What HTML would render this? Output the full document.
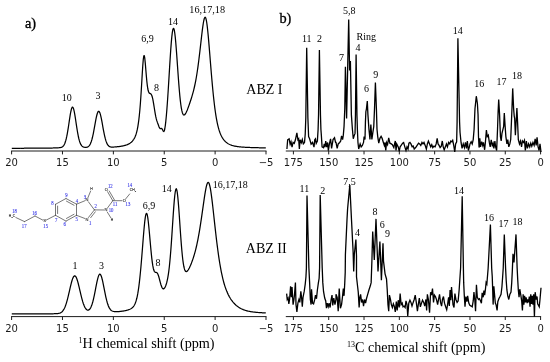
<!DOCTYPE html>
<html lang="en"><head><meta charset="utf-8"><title>ABZ NMR spectra</title>
<style>html,body{margin:0;padding:0;background:#fff}svg{display:block}</style></head>
<body>
<svg width="550" height="362" viewBox="0 0 550 362">
<rect width="550" height="362" fill="#fff"/>
<path d="M11.10 151.00H266.50" stroke="#1c1c1c" stroke-width="1" fill="none"/>
<path d="M11.60 151.00v3.4M62.48 151.00v3.4M113.36 151.00v3.4M164.24 151.00v3.4M215.12 151.00v3.4M266.00 151.00v3.4" stroke="#1c1c1c" stroke-width="1" fill="none"/>
<text x="11.60" y="165.60" text-anchor="middle" font-family='"DejaVu Sans", "Liberation Sans", sans-serif' font-size="10" fill="#1a1a1a">20</text>
<text x="62.48" y="165.60" text-anchor="middle" font-family='"DejaVu Sans", "Liberation Sans", sans-serif' font-size="10" fill="#1a1a1a">15</text>
<text x="113.36" y="165.60" text-anchor="middle" font-family='"DejaVu Sans", "Liberation Sans", sans-serif' font-size="10" fill="#1a1a1a">10</text>
<text x="164.24" y="165.60" text-anchor="middle" font-family='"DejaVu Sans", "Liberation Sans", sans-serif' font-size="10" fill="#1a1a1a">5</text>
<text x="215.12" y="165.60" text-anchor="middle" font-family='"DejaVu Sans", "Liberation Sans", sans-serif' font-size="10" fill="#1a1a1a">0</text>
<text x="266.00" y="165.60" text-anchor="middle" font-family='"DejaVu Sans", "Liberation Sans", sans-serif' font-size="10" fill="#1a1a1a">−5</text>
<path d="M11.10 316.60H266.50" stroke="#1c1c1c" stroke-width="1" fill="none"/>
<path d="M11.60 316.60v3.4M62.48 316.60v3.4M113.36 316.60v3.4M164.24 316.60v3.4M215.12 316.60v3.4M266.00 316.60v3.4" stroke="#1c1c1c" stroke-width="1" fill="none"/>
<text x="11.60" y="331.50" text-anchor="middle" font-family='"DejaVu Sans", "Liberation Sans", sans-serif' font-size="10" fill="#1a1a1a">20</text>
<text x="62.48" y="331.50" text-anchor="middle" font-family='"DejaVu Sans", "Liberation Sans", sans-serif' font-size="10" fill="#1a1a1a">15</text>
<text x="113.36" y="331.50" text-anchor="middle" font-family='"DejaVu Sans", "Liberation Sans", sans-serif' font-size="10" fill="#1a1a1a">10</text>
<text x="164.24" y="331.50" text-anchor="middle" font-family='"DejaVu Sans", "Liberation Sans", sans-serif' font-size="10" fill="#1a1a1a">5</text>
<text x="215.12" y="331.50" text-anchor="middle" font-family='"DejaVu Sans", "Liberation Sans", sans-serif' font-size="10" fill="#1a1a1a">0</text>
<text x="266.00" y="331.50" text-anchor="middle" font-family='"DejaVu Sans", "Liberation Sans", sans-serif' font-size="10" fill="#1a1a1a">−5</text>
<path d="M285.80 151.00H541.10" stroke="#1c1c1c" stroke-width="1" fill="none"/>
<path d="M293.40 151.00v3.4M328.71 151.00v3.4M364.02 151.00v3.4M399.34 151.00v3.4M434.65 151.00v3.4M469.96 151.00v3.4M505.27 151.00v3.4M540.59 151.00v3.4" stroke="#1c1c1c" stroke-width="1" fill="none"/>
<text x="293.40" y="165.60" text-anchor="middle" font-family='"DejaVu Sans", "Liberation Sans", sans-serif' font-size="10" fill="#1a1a1a">175</text>
<text x="328.71" y="165.60" text-anchor="middle" font-family='"DejaVu Sans", "Liberation Sans", sans-serif' font-size="10" fill="#1a1a1a">150</text>
<text x="364.02" y="165.60" text-anchor="middle" font-family='"DejaVu Sans", "Liberation Sans", sans-serif' font-size="10" fill="#1a1a1a">125</text>
<text x="399.34" y="165.60" text-anchor="middle" font-family='"DejaVu Sans", "Liberation Sans", sans-serif' font-size="10" fill="#1a1a1a">100</text>
<text x="434.65" y="165.60" text-anchor="middle" font-family='"DejaVu Sans", "Liberation Sans", sans-serif' font-size="10" fill="#1a1a1a">75</text>
<text x="469.96" y="165.60" text-anchor="middle" font-family='"DejaVu Sans", "Liberation Sans", sans-serif' font-size="10" fill="#1a1a1a">50</text>
<text x="505.27" y="165.60" text-anchor="middle" font-family='"DejaVu Sans", "Liberation Sans", sans-serif' font-size="10" fill="#1a1a1a">25</text>
<text x="540.59" y="165.60" text-anchor="middle" font-family='"DejaVu Sans", "Liberation Sans", sans-serif' font-size="10" fill="#1a1a1a">0</text>
<path d="M285.80 316.60H541.10" stroke="#1c1c1c" stroke-width="1" fill="none"/>
<path d="M293.40 316.60v3.4M328.71 316.60v3.4M364.02 316.60v3.4M399.34 316.60v3.4M434.65 316.60v3.4M469.96 316.60v3.4M505.27 316.60v3.4M540.59 316.60v3.4" stroke="#1c1c1c" stroke-width="1" fill="none"/>
<text x="293.40" y="331.50" text-anchor="middle" font-family='"DejaVu Sans", "Liberation Sans", sans-serif' font-size="10" fill="#1a1a1a">175</text>
<text x="328.71" y="331.50" text-anchor="middle" font-family='"DejaVu Sans", "Liberation Sans", sans-serif' font-size="10" fill="#1a1a1a">150</text>
<text x="364.02" y="331.50" text-anchor="middle" font-family='"DejaVu Sans", "Liberation Sans", sans-serif' font-size="10" fill="#1a1a1a">125</text>
<text x="399.34" y="331.50" text-anchor="middle" font-family='"DejaVu Sans", "Liberation Sans", sans-serif' font-size="10" fill="#1a1a1a">100</text>
<text x="434.65" y="331.50" text-anchor="middle" font-family='"DejaVu Sans", "Liberation Sans", sans-serif' font-size="10" fill="#1a1a1a">75</text>
<text x="469.96" y="331.50" text-anchor="middle" font-family='"DejaVu Sans", "Liberation Sans", sans-serif' font-size="10" fill="#1a1a1a">50</text>
<text x="505.27" y="331.50" text-anchor="middle" font-family='"DejaVu Sans", "Liberation Sans", sans-serif' font-size="10" fill="#1a1a1a">25</text>
<text x="540.59" y="331.50" text-anchor="middle" font-family='"DejaVu Sans", "Liberation Sans", sans-serif' font-size="10" fill="#1a1a1a">0</text>
<path d="M11.80 148.28L12.30 148.27L12.80 148.27L13.30 148.27L13.80 148.27L14.30 148.27L14.80 148.27L15.30 148.27L15.80 148.27L16.30 148.27L16.80 148.26L17.30 148.26L17.80 148.26L18.30 148.26L18.80 148.26L19.30 148.26L19.80 148.26L20.30 148.26L20.80 148.25L21.30 148.25L21.80 148.25L22.30 148.25L22.80 148.25L23.30 148.25L23.80 148.25L24.30 148.24L24.80 148.24L25.30 148.24L25.80 148.24L26.30 148.24L26.80 148.24L27.30 148.23L27.80 148.23L28.30 148.23L28.80 148.23L29.30 148.23L29.80 148.22L30.30 148.22L30.80 148.22L31.30 148.22L31.80 148.22L32.30 148.21L32.80 148.21L33.30 148.21L33.80 148.21L34.30 148.20L34.80 148.20L35.30 148.20L35.80 148.20L36.30 148.19L36.80 148.19L37.30 148.19L37.80 148.18L38.30 148.18L38.80 148.18L39.30 148.17L39.80 148.17L40.30 148.17L40.80 148.16L41.30 148.16L41.80 148.15L42.30 148.15L42.80 148.15L43.30 148.14L43.80 148.14L44.30 148.13L44.80 148.13L45.30 148.12L45.80 148.12L46.30 148.11L46.80 148.10L47.30 148.10L47.80 148.09L48.30 148.08L48.80 148.08L49.30 148.07L49.80 148.06L50.30 148.05L50.80 148.04L51.30 148.03L51.80 148.02L52.30 148.01L52.80 148.00L53.30 147.99L53.80 147.98L54.30 147.96L54.80 147.95L55.30 147.93L55.80 147.91L56.30 147.89L56.80 147.87L57.30 147.85L57.80 147.82L58.30 147.79L58.80 147.75L59.30 147.70L59.80 147.64L60.30 147.56L60.80 147.45L61.30 147.30L61.80 147.10L62.30 146.83L62.80 146.46L63.30 145.96L63.80 145.32L64.30 144.48L64.80 143.41L65.30 142.07L65.80 140.43L66.30 138.48L66.80 136.19L67.30 133.58L67.80 130.67L68.30 127.53L68.80 124.22L69.30 120.85L69.80 117.56L70.30 114.47L70.80 111.75L71.30 109.55L71.80 108.00L72.30 107.20L72.80 107.22L73.30 108.05L73.80 109.63L74.30 111.86L74.80 114.59L75.30 117.69L75.80 120.98L76.30 124.34L76.80 127.64L77.30 130.77L77.80 133.65L78.30 136.24L78.80 138.50L79.30 140.43L79.80 142.04L80.30 143.36L80.80 144.41L81.30 145.23L81.80 145.86L82.30 146.33L82.80 146.68L83.30 146.94L83.80 147.12L84.30 147.24L84.80 147.31L85.30 147.35L85.80 147.34L86.30 147.30L86.80 147.21L87.30 147.06L87.80 146.85L88.30 146.54L88.80 146.13L89.30 145.58L89.80 144.87L90.30 143.97L90.80 142.86L91.30 141.51L91.80 139.90L92.30 138.03L92.80 135.89L93.30 133.52L93.80 130.95L94.30 128.23L94.80 125.42L95.30 122.63L95.80 119.93L96.30 117.45L96.80 115.26L97.30 113.48L97.80 112.19L98.30 111.43L98.80 111.26L99.30 111.67L99.80 112.65L100.30 114.15L100.80 116.10L101.30 118.41L101.80 120.99L102.30 123.72L102.80 126.52L103.30 129.28L103.80 131.93L104.30 134.41L104.80 136.66L105.30 138.67L105.80 140.41L106.30 141.89L106.80 143.13L107.30 144.13L107.80 144.93L108.30 145.55L108.80 146.03L109.30 146.38L109.80 146.64L110.30 146.82L110.80 146.94L111.30 147.01L111.80 147.05L112.30 147.07L112.80 147.07L113.30 147.06L113.80 147.03L114.30 147.00L114.80 146.97L115.30 146.93L115.80 146.89L116.30 146.84L116.80 146.80L117.30 146.74L117.80 146.69L118.30 146.63L118.80 146.57L119.30 146.51L119.80 146.44L120.30 146.36L120.80 146.29L121.30 146.20L121.80 146.12L122.30 146.02L122.80 145.92L123.30 145.81L123.80 145.70L124.30 145.57L124.80 145.44L125.30 145.30L125.80 145.14L126.30 144.98L126.80 144.80L127.30 144.60L127.80 144.39L128.30 144.15L128.80 143.90L129.30 143.62L129.80 143.31L130.30 142.98L130.80 142.60L131.30 142.19L131.80 141.73L132.30 141.21L132.80 140.63L133.30 139.98L133.80 139.24L134.30 138.39L134.80 137.41L135.30 136.28L135.80 134.95L136.30 133.40L136.80 131.56L137.30 129.38L137.80 126.78L138.30 123.68L138.80 119.99L139.30 115.61L139.80 110.45L140.30 104.44L140.80 97.53L141.30 89.79L141.80 81.47L142.30 73.04L142.80 65.28L143.30 59.23L143.80 55.84L144.30 55.65L144.80 58.45L145.30 63.42L145.80 69.45L146.30 75.53L146.80 80.98L147.30 85.43L147.80 88.75L148.30 91.02L148.80 92.40L149.30 93.12L149.80 93.43L150.30 93.60L150.80 93.87L151.30 94.44L151.80 95.47L152.30 97.04L152.80 99.16L153.30 101.79L153.80 104.78L154.30 107.98L154.80 111.16L155.30 114.12L155.80 116.73L156.30 118.90L156.80 120.67L157.30 122.14L157.80 123.48L158.30 124.82L158.80 126.17L159.30 127.39L159.80 128.28L160.30 128.65L160.80 128.59L161.30 128.40L161.80 128.53L162.30 129.21L162.80 130.29L163.30 131.27L163.80 131.57L164.30 130.78L164.80 128.75L165.30 125.57L165.80 121.36L166.30 116.26L166.80 110.36L167.30 103.74L167.80 96.50L168.30 88.75L168.80 80.65L169.30 72.38L169.80 64.16L170.30 56.25L170.80 48.89L171.30 42.35L171.80 36.84L172.30 32.58L172.80 29.72L173.30 28.36L173.80 28.53L174.30 30.20L174.80 33.28L175.30 37.62L175.80 43.02L176.30 49.23L176.80 56.01L177.30 63.11L177.80 70.27L178.30 77.27L178.80 83.92L179.30 90.05L179.80 95.57L180.30 100.38L180.80 104.47L181.30 107.81L181.80 110.45L182.30 112.42L182.80 113.79L183.30 114.63L183.80 115.00L184.30 114.98L184.80 114.63L185.30 114.02L185.80 113.20L186.30 112.22L186.80 111.10L187.30 109.90L187.80 108.61L188.30 107.27L188.80 105.89L189.30 104.47L189.80 103.02L190.30 101.53L190.80 100.01L191.30 98.45L191.80 96.83L192.30 95.15L192.80 93.40L193.30 91.55L193.80 89.59L194.30 87.50L194.80 85.26L195.30 82.86L195.80 80.27L196.30 77.49L196.80 74.49L197.30 71.26L197.80 67.82L198.30 64.15L198.80 60.27L199.30 56.20L199.80 51.97L200.30 47.63L200.80 43.21L201.30 38.81L201.80 34.50L202.30 30.39L202.80 26.59L203.30 23.25L203.80 20.51L204.30 18.51L204.80 17.39L205.30 17.25L205.80 18.14L206.30 20.08L206.80 23.02L207.30 26.85L207.80 31.45L208.30 36.67L208.80 42.35L209.30 48.34L209.80 54.50L210.30 60.72L210.80 66.90L211.30 72.95L211.80 78.80L212.30 84.42L212.80 89.74L213.30 94.76L213.80 99.44L214.30 103.79L214.80 107.80L215.30 111.47L215.80 114.82L216.30 117.86L216.80 120.61L217.30 123.10L217.80 125.33L218.30 127.34L218.80 129.14L219.30 130.76L219.80 132.21L220.30 133.52L220.80 134.70L221.30 135.77L221.80 136.73L222.30 137.60L222.80 138.39L223.30 139.12L223.80 139.78L224.30 140.38L224.80 140.94L225.30 141.44L225.80 141.91L226.30 142.34L226.80 142.74L227.30 143.10L227.80 143.43L228.30 143.74L228.80 144.03L229.30 144.29L229.80 144.53L230.30 144.76L230.80 144.96L231.30 145.15L231.80 145.33L232.30 145.49L232.80 145.63L233.30 145.77L233.80 145.90L234.30 146.02L234.80 146.12L235.30 146.22L235.80 146.32L236.30 146.40L236.80 146.48L237.30 146.56L237.80 146.63L238.30 146.69L238.80 146.75L239.30 146.81L239.80 146.86L240.30 146.91L240.80 146.96L241.30 147.00L241.80 147.04L242.30 147.08L242.80 147.12L243.30 147.15L243.80 147.18L244.30 147.22L244.80 147.25L245.30 147.28L245.80 147.30L246.30 147.33L246.80 147.35L247.30 147.38L247.80 147.40L248.30 147.42L248.80 147.45L249.30 147.47L249.80 147.49L250.30 147.50L250.80 147.52L251.30 147.54L251.80 147.56L252.30 147.58L252.80 147.59L253.30 147.61L253.80 147.62L254.30 147.64L254.80 147.65L255.30 147.67L255.80 147.68L256.30 147.69L256.80 147.70L257.30 147.72L257.80 147.73L258.30 147.74L258.80 147.75L259.30 147.76L259.80 147.77L260.30 147.78L260.80 147.80L261.30 147.81L261.80 147.81L262.30 147.82L262.80 147.83L263.30 147.84L263.80 147.85L264.30 147.86L264.80 147.87L265.30 147.88L265.80 147.88" stroke="#000" stroke-width="1.25" fill="none" stroke-linejoin="round"/>
<path d="M11.80 313.98L12.30 313.98L12.80 313.98L13.30 313.98L13.80 313.97L14.30 313.97L14.80 313.97L15.30 313.97L15.80 313.97L16.30 313.97L16.80 313.97L17.30 313.96L17.80 313.96L18.30 313.96L18.80 313.96L19.30 313.96L19.80 313.96L20.30 313.95L20.80 313.95L21.30 313.95L21.80 313.95L22.30 313.95L22.80 313.95L23.30 313.94L23.80 313.94L24.30 313.94L24.80 313.94L25.30 313.94L25.80 313.93L26.30 313.93L26.80 313.93L27.30 313.93L27.80 313.93L28.30 313.92L28.80 313.92L29.30 313.92L29.80 313.92L30.30 313.91L30.80 313.91L31.30 313.91L31.80 313.91L32.30 313.91L32.80 313.90L33.30 313.90L33.80 313.90L34.30 313.90L34.80 313.89L35.30 313.89L35.80 313.89L36.30 313.89L36.80 313.88L37.30 313.88L37.80 313.88L38.30 313.88L38.80 313.87L39.30 313.87L39.80 313.87L40.30 313.86L40.80 313.86L41.30 313.86L41.80 313.85L42.30 313.85L42.80 313.85L43.30 313.85L43.80 313.84L44.30 313.84L44.80 313.84L45.30 313.83L45.80 313.83L46.30 313.83L46.80 313.82L47.30 313.82L47.80 313.81L48.30 313.81L48.80 313.81L49.30 313.80L49.80 313.80L50.30 313.79L50.80 313.79L51.30 313.79L51.80 313.78L52.30 313.77L52.80 313.77L53.30 313.76L53.80 313.75L54.30 313.74L54.80 313.73L55.30 313.71L55.80 313.69L56.30 313.67L56.80 313.63L57.30 313.59L57.80 313.53L58.30 313.46L58.80 313.36L59.30 313.23L59.80 313.07L60.30 312.87L60.80 312.62L61.30 312.31L61.80 311.93L62.30 311.46L62.80 310.90L63.30 310.23L63.80 309.44L64.30 308.52L64.80 307.45L65.30 306.24L65.80 304.87L66.30 303.35L66.80 301.68L67.30 299.87L67.80 297.92L68.30 295.87L68.80 293.73L69.30 291.55L69.80 289.35L70.30 287.17L70.80 285.07L71.30 283.08L71.80 281.25L72.30 279.63L72.80 278.26L73.30 277.17L73.80 276.38L74.30 275.93L74.80 275.83L75.30 276.06L75.80 276.64L76.30 277.54L76.80 278.74L77.30 280.20L77.80 281.89L78.30 283.77L78.80 285.78L79.30 287.89L79.80 290.05L80.30 292.21L80.80 294.34L81.30 296.41L81.80 298.37L82.30 300.21L82.80 301.91L83.30 303.46L83.80 304.84L84.30 306.07L84.80 307.12L85.30 308.01L85.80 308.75L86.30 309.32L86.80 309.75L87.30 310.02L87.80 310.14L88.30 310.11L88.80 309.93L89.30 309.58L89.80 309.05L90.30 308.35L90.80 307.45L91.30 306.34L91.80 305.03L92.30 303.49L92.80 301.74L93.30 299.78L93.80 297.62L94.30 295.30L94.80 292.83L95.30 290.28L95.80 287.68L96.30 285.12L96.80 282.65L97.30 280.35L97.80 278.31L98.30 276.60L98.80 275.30L99.30 274.46L99.80 274.13L100.30 274.32L100.80 275.02L101.30 276.19L101.80 277.79L102.30 279.73L102.80 281.95L103.30 284.35L103.80 286.87L104.30 289.44L104.80 291.98L105.30 294.44L105.80 296.78L106.30 298.95L106.80 300.95L107.30 302.74L107.80 304.33L108.30 305.71L108.80 306.90L109.30 307.90L109.80 308.74L110.30 309.42L110.80 309.98L111.30 310.42L111.80 310.77L112.30 311.03L112.80 311.24L113.30 311.39L113.80 311.50L114.30 311.58L114.80 311.63L115.30 311.66L115.80 311.67L116.30 311.67L116.80 311.66L117.30 311.65L117.80 311.62L118.30 311.59L118.80 311.56L119.30 311.52L119.80 311.47L120.30 311.42L120.80 311.37L121.30 311.31L121.80 311.24L122.30 311.18L122.80 311.10L123.30 311.02L123.80 310.94L124.30 310.85L124.80 310.75L125.30 310.64L125.80 310.53L126.30 310.41L126.80 310.28L127.30 310.14L127.80 309.99L128.30 309.83L128.80 309.65L129.30 309.46L129.80 309.25L130.30 309.01L130.80 308.74L131.30 308.44L131.80 308.09L132.30 307.69L132.80 307.22L133.30 306.66L133.80 306.01L134.30 305.22L134.80 304.28L135.30 303.15L135.80 301.80L136.30 300.18L136.80 298.27L137.30 296.01L137.80 293.38L138.30 290.33L138.80 286.83L139.30 282.87L139.80 278.43L140.30 273.53L140.80 268.20L141.30 262.48L141.80 256.44L142.30 250.18L142.80 243.83L143.30 237.55L143.80 231.53L144.30 225.99L144.80 221.18L145.30 217.33L145.80 214.66L146.30 213.35L146.80 213.48L147.30 215.01L147.80 217.83L148.30 221.74L148.80 226.47L149.30 231.77L149.80 237.37L150.30 243.03L150.80 248.53L151.30 253.68L151.80 258.32L152.30 262.34L152.80 265.65L153.30 268.23L153.80 270.08L154.30 271.29L154.80 271.97L155.30 272.27L155.80 272.37L156.30 272.45L156.80 272.67L157.30 273.17L157.80 274.01L158.30 275.22L158.80 276.77L159.30 278.56L159.80 280.49L160.30 282.42L160.80 284.24L161.30 285.84L161.80 287.13L162.30 288.08L162.80 288.66L163.30 288.88L163.80 288.77L164.30 288.35L164.80 287.65L165.30 286.69L165.80 285.48L166.30 284.00L166.80 282.23L167.30 280.12L167.80 277.61L168.30 274.62L168.80 271.09L169.30 266.95L169.80 262.13L170.30 256.63L170.80 250.46L171.30 243.67L171.80 236.40L172.30 228.80L172.80 221.13L173.30 213.63L173.80 206.63L174.30 200.41L174.80 195.29L175.30 191.53L175.80 189.32L176.30 188.78L176.80 189.94L177.30 192.72L177.80 196.96L178.30 202.42L178.80 208.81L179.30 215.81L179.80 223.12L180.30 230.44L180.80 237.50L181.30 244.09L181.80 250.05L182.30 255.28L182.80 259.72L183.30 263.37L183.80 266.25L184.30 268.43L184.80 269.97L185.30 270.97L185.80 271.50L186.30 271.65L186.80 271.50L187.30 271.10L187.80 270.51L188.30 269.77L188.80 268.90L189.30 267.95L189.80 266.91L190.30 265.81L190.80 264.64L191.30 263.42L191.80 262.13L192.30 260.78L192.80 259.36L193.30 257.87L193.80 256.30L194.30 254.64L194.80 252.89L195.30 251.04L195.80 249.08L196.30 247.00L196.80 244.80L197.30 242.48L197.80 240.02L198.30 237.43L198.80 234.70L199.30 231.84L199.80 228.84L200.30 225.72L200.80 222.47L201.30 219.12L201.80 215.67L202.30 212.16L202.80 208.62L203.30 205.06L203.80 201.55L204.30 198.13L204.80 194.86L205.30 191.81L205.80 189.06L206.30 186.68L206.80 184.75L207.30 183.35L207.80 182.54L208.30 182.36L208.80 182.85L209.30 184.01L209.80 185.81L210.30 188.21L210.80 191.15L211.30 194.56L211.80 198.35L212.30 202.44L212.80 206.75L213.30 211.21L213.80 215.76L214.30 220.33L214.80 224.89L215.30 229.38L215.80 233.78L216.30 238.06L216.80 242.20L217.30 246.18L217.80 250.00L218.30 253.65L218.80 257.11L219.30 260.40L219.80 263.51L220.30 266.44L220.80 269.20L221.30 271.79L221.80 274.22L222.30 276.49L222.80 278.62L223.30 280.61L223.80 282.47L224.30 284.21L224.80 285.83L225.30 287.35L225.80 288.77L226.30 290.11L226.80 291.36L227.30 292.53L227.80 293.64L228.30 294.68L228.80 295.65L229.30 296.58L229.80 297.45L230.30 298.28L230.80 299.06L231.30 299.80L231.80 300.50L232.30 301.16L232.80 301.79L233.30 302.39L233.80 302.96L234.30 303.50L234.80 304.02L235.30 304.50L235.80 304.97L236.30 305.41L236.80 305.82L237.30 306.22L237.80 306.60L238.30 306.95L238.80 307.29L239.30 307.61L239.80 307.91L240.30 308.20L240.80 308.47L241.30 308.73L241.80 308.97L242.30 309.20L242.80 309.42L243.30 309.63L243.80 309.82L244.30 310.00L244.80 310.18L245.30 310.34L245.80 310.49L246.30 310.64L246.80 310.78L247.30 310.91L247.80 311.03L248.30 311.15L248.80 311.25L249.30 311.36L249.80 311.46L250.30 311.55L250.80 311.63L251.30 311.72L251.80 311.79L252.30 311.87L252.80 311.94L253.30 312.00L253.80 312.07L254.30 312.13L254.80 312.18L255.30 312.23L255.80 312.29L256.30 312.33L256.80 312.38L257.30 312.42L257.80 312.47L258.30 312.50L258.80 312.54L259.30 312.58L259.80 312.61L260.30 312.65L260.80 312.68L261.30 312.71L261.80 312.74L262.30 312.77L262.80 312.79L263.30 312.82L263.80 312.85L264.30 312.87L264.80 312.89L265.30 312.92L265.80 312.94" stroke="#000" stroke-width="1.25" fill="none" stroke-linejoin="round"/>
<path d="M286.93 149.05L287.66 139.82L289.12 138.80L290.15 144.22L291.03 141.73L292.05 147.14L293.08 142.46L294.25 143.34L295.42 139.82L296.88 132.94L297.91 139.82L298.64 138.80L299.37 149.05L300.11 139.82L301.28 142.75L302.30 139.53L303.33 143.92L304.50 142.46L305.23 133.97L305.82 117.57L306.70 47.80L307.87 117.57L308.60 136.60L309.62 138.80L311.09 144.22L312.55 142.46L314.01 147.14L314.75 139.82L315.48 138.80L316.21 143.34L317.38 141.00L318.11 129.28L318.55 114.64L319.40 50.10L320.46 114.64L320.90 129.28L321.34 135.14L322.07 146.85L323.53 147.73L324.26 143.92L325.00 147.14L325.73 141.00L326.75 147.14L327.63 142.46L328.36 150.66L329.39 143.92L330.56 138.80L331.58 148.32L333.05 139.53L334.51 137.77L335.54 142.46L336.00 142.46L337.17 148.32L338.20 143.92L339.66 142.46L340.69 141.00L341.56 135.87L342.59 139.53L343.32 135.14L344.05 126.35L344.78 108.78L345.40 66.80L346.60 118.50L348.70 19.60L349.60 70.40L350.40 61.00L351.37 114.64L352.40 129.28L353.28 138.80L354.30 135.14L355.03 133.38L355.47 114.64L356.10 54.60L356.94 114.64L357.38 129.28L357.96 142.46L358.69 149.05L360.16 143.92L361.18 146.85L362.35 145.39L363.53 142.46L364.11 136.60L364.99 139.53L365.43 121.96L365.87 111.71L366.45 108.78L367.30 101.00L367.92 114.64L368.94 129.28L369.97 139.53L370.85 124.60L371.87 139.53L372.90 132.21L373.77 126.35L374.51 108.78L375.40 82.60L376.41 108.78L377.00 129.28L377.73 136.60L378.75 143.19L379.92 138.36L381.10 136.31L382.12 138.36L383.14 141.73L384.32 145.39L385.05 142.46L385.78 150.51L386.51 142.46L387.54 144.66L388.71 137.77L389.88 143.19L391.34 143.92L392.37 144.66L393.83 147.58L394.57 143.92L395.30 141.00L396.03 150.51L396.76 143.92L398.23 146.85L399.25 151.24L400.13 146.85L401.15 145.39L402.62 143.19L403.64 142.46L404.81 146.85L405.99 150.51L407.01 146.85L408.04 149.05L408.91 143.19L409.94 142.46L410.96 143.92L412.13 146.85L413.17 146.12L414.20 149.05L415.66 147.58L417.12 145.39L418.59 143.19L419.61 143.92L420.78 145.39L421.96 142.46L422.98 143.92L424.01 142.46L425.18 145.39L426.35 149.05L427.37 143.92L428.40 141.00L429.57 143.92L430.74 146.85L431.77 144.66L432.79 147.58L433.96 146.12L435.13 146.85L436.16 143.92L437.18 138.36L438.06 143.92L439.09 145.39L440.11 147.58L441.28 146.12L442.31 141.00L443.19 146.85L444.21 149.78L445.38 146.85L446.41 143.92L447.43 146.85L448.60 142.46L449.77 143.92L450.80 141.00L451.82 141.73L452.70 140.26L453.73 145.39L454.75 151.98L455.63 143.92L456.66 141.73L457.10 121.96L457.90 38.20L459.58 121.96L460.02 132.21L461.05 142.46L462.07 148.32L463.24 143.92L464.42 147.58L465.44 142.46L466.47 148.32L467.34 141.00L468.37 150.51L469.39 146.85L470.00 143.92L471.17 141.73L472.20 143.92L473.22 139.53L474.10 129.28L474.98 108.78L476.30 96.20L477.40 103.50L478.05 114.64L478.49 136.60L479.08 147.58L479.81 138.36L480.54 146.85L481.71 141.73L482.74 145.39L483.47 142.46L484.64 149.78L485.37 142.46L486.40 130.01L487.28 136.60L488.30 135.14L489.33 142.46L490.20 146.85L491.23 139.82L492.25 145.39L493.13 143.19L493.87 148.32L494.89 141.00L495.62 146.85L496.65 150.51L497.53 129.28L498.11 111.71L498.70 99.50L499.58 114.64L500.45 136.60L501.19 141.00L501.92 133.67L502.94 129.28L503.67 126.35L504.30 113.00L505.14 126.35L505.87 136.60L506.90 143.92L507.77 139.53L508.80 146.85L509.82 143.92L510.70 139.53L511.43 121.96L512.02 107.32L512.70 88.40L513.63 108.78L514.22 116.11L514.66 118.30L515.39 135.14L516.12 121.96L516.90 108.10L517.58 121.96L518.32 139.53L519.49 143.92L520.51 141.00L521.54 146.85L522.42 141.00L523.44 142.46L524.47 140.26L525.34 150.51L526.37 141.00L527.39 148.32L528.57 143.92L529.74 146.85L530.76 143.19L531.79 146.12L532.96 142.46L534.13 145.39L535.15 138.80L536.18 145.39L537.06 137.34L538.08 146.85L539.11 150.51L539.99 143.92L541.01 151.98" stroke="#000" stroke-width="1.3" fill="none" stroke-linejoin="miter" stroke-miterlimit="4"/>
<path d="M286.64 293.62L287.22 299.48L288.10 298.01L288.83 303.87L289.56 299.48L290.59 286.30L291.32 297.28L292.05 287.03L293.08 304.60L293.96 299.48L294.54 294.35L295.42 282.64L296.01 304.60L296.88 311.92L297.91 303.14L298.93 299.48L299.81 302.41L300.84 291.43L301.57 297.28L302.30 306.80L303.03 297.28L304.20 291.43L305.23 284.11L305.96 276.78L306.40 268.00L307.00 195.40L308.89 268.00L309.62 282.64L310.35 299.48L311.09 304.60L311.53 289.23L312.55 303.14L313.58 303.87L314.75 299.48L315.48 295.09L316.50 298.75L317.38 289.96L318.41 282.64L319.14 278.25L319.58 268.00L320.20 195.00L322.21 268.00L322.80 282.64L323.53 291.43L324.70 298.01L325.73 300.94L326.46 308.26L327.19 303.14L328.22 306.80L329.10 303.14L330.12 307.53L331.14 299.48L332.02 295.09L332.76 305.34L333.78 298.01L334.95 304.60L335.98 299.48L336.00 294.35L337.17 297.28L338.20 311.19L339.22 288.50L340.39 308.26L341.56 304.60L342.59 295.82L343.32 288.50L344.05 295.82L344.78 282.64L345.22 272.39L345.40 254.80L347.00 219.80L347.60 208.70L349.80 185.00L351.50 219.80L353.10 251.50L353.70 271.50L354.30 254.80L355.90 239.50L356.50 256.00L356.50 276.78L357.67 287.03L358.25 292.16L359.13 307.53L359.87 297.28L360.60 294.35L361.62 302.41L362.65 299.48L363.53 306.07L364.55 299.48L365.58 303.14L366.45 298.75L367.48 295.09L368.94 289.96L370.41 285.57L371.14 282.64L371.90 261.00L372.70 231.60L374.30 260.00L376.00 218.90L378.00 271.50L379.90 241.50L381.40 280.20L383.00 243.20L383.50 261.00L385.05 273.86L386.51 278.98L387.24 289.96L387.98 304.60L388.71 311.19L389.44 295.09L390.47 299.48L391.34 304.60L392.37 307.53L393.39 303.87L394.27 306.07L395.30 311.92L396.32 301.67L397.20 310.46L398.23 300.21L399.25 307.53L400.13 293.62L401.15 304.60L402.18 303.14L403.06 306.80L404.08 306.07L405.11 307.53L405.99 300.94L407.01 304.60L407.74 316.02L408.77 303.14L409.94 300.21L410.96 302.41L412.00 306.07L413.17 302.41L414.20 299.48L415.22 295.09L416.39 303.14L417.42 311.19L418.30 304.60L419.32 298.01L420.35 306.80L421.52 303.14L422.54 300.21L423.71 302.41L424.74 306.07L425.91 299.48L426.64 310.46L427.37 294.35L428.40 299.48L429.57 312.66L430.59 292.16L431.47 295.09L432.50 288.50L433.52 302.41L434.40 295.09L435.43 296.55L436.45 299.48L437.62 304.60L438.65 298.75L439.53 294.35L440.55 302.41L441.58 306.07L442.45 299.48L443.48 296.55L444.50 303.14L445.67 306.80L446.70 309.73L447.58 304.60L448.60 297.28L449.34 306.07L450.07 289.96L450.80 300.21L451.53 287.03L452.26 295.82L453.00 304.60L454.02 307.53L454.90 293.62L455.92 299.48L457.10 302.41L458.12 300.94L459.14 289.96L460.02 276.78L460.61 268.00L462.20 196.20L463.39 268.00L463.68 282.64L464.27 295.09L465.00 306.80L465.88 296.55L466.90 301.67L467.64 295.82L468.81 303.14L469.83 305.34L471.17 306.07L472.20 306.80L473.22 300.94L473.95 292.16L474.83 300.21L475.56 311.19L476.44 284.84L477.32 297.28L478.49 299.48L479.52 298.75L480.54 300.94L481.42 303.14L482.15 292.89L483.18 297.28L483.91 290.69L484.64 295.09L485.37 289.96L486.11 282.64L486.84 284.11L487.57 275.32L488.16 268.00L490.40 224.60L491.67 268.00L492.25 276.78L492.69 289.96L493.13 304.60L493.87 286.30L494.60 295.09L495.33 303.14L496.06 304.60L497.09 310.46L497.82 301.67L498.84 298.75L500.01 296.55L501.04 294.35L501.92 287.03L502.65 276.78L503.24 268.00L504.30 234.40L505.58 268.00L506.16 279.71L506.90 289.96L507.77 295.82L508.80 299.48L509.82 294.35L511.00 292.16L511.73 282.64L512.31 270.93L513.00 253.90L514.00 262.50L516.00 234.40L517.14 268.00L517.73 279.71L518.32 289.96L519.05 297.28L519.78 289.23L520.81 295.09L521.68 300.94L522.42 310.46L523.15 294.35L523.88 304.60L524.61 295.82L525.34 302.41L526.08 297.28L527.10 303.14L527.83 299.48L528.57 302.41L529.30 296.55L530.03 306.80L530.76 294.35L531.49 303.87L532.23 295.82L532.96 304.60L533.69 294.35L534.42 316.61L535.15 292.16L536.18 299.48L537.06 296.55L537.64 303.87L538.52 305.34L539.25 306.80L539.99 299.48L541.01 287.77" stroke="#000" stroke-width="1.3" fill="none" stroke-linejoin="miter" stroke-miterlimit="4"/>
<text x="25.00" y="28.20" text-anchor="start" font-family='"Liberation Serif", "DejaVu Serif", serif' font-size="14.3" fill="#000" stroke="#000" stroke-width="0.35">a)</text>
<text x="279.40" y="22.60" text-anchor="start" font-family='"Liberation Serif", "DejaVu Serif", serif' font-size="14.3" fill="#000" stroke="#000" stroke-width="0.3">b)</text>
<text x="246.30" y="93.70" text-anchor="start" font-family='"Liberation Serif", "DejaVu Serif", serif' font-size="14" fill="#000">ABZ I</text>
<text x="245.80" y="252.70" text-anchor="start" font-family='"Liberation Serif", "DejaVu Serif", serif' font-size="14" fill="#000">ABZ II</text>
<text x="78.6" y="348.4" font-family='"Liberation Serif", "DejaVu Serif", serif' font-size="14.2" fill="#000"><tspan font-size="8" dy="-5.2">1</tspan><tspan dy="5.2">H chemical shift (ppm)</tspan></text>
<text x="347.0" y="351.8" font-family='"Liberation Serif", "DejaVu Serif", serif' font-size="14.1" fill="#000"><tspan font-size="8" dy="-5.2">13</tspan><tspan dy="5.2">C chemical shift (ppm)</tspan></text>
<text x="66.80" y="100.90" text-anchor="middle" font-family='"Liberation Serif", "DejaVu Serif", serif' font-size="10" fill="#000">10</text>
<text x="98.10" y="99.10" text-anchor="middle" font-family='"Liberation Serif", "DejaVu Serif", serif' font-size="10" fill="#000">3</text>
<text x="147.60" y="41.50" text-anchor="middle" font-family='"Liberation Serif", "DejaVu Serif", serif' font-size="10" fill="#000">6,9</text>
<text x="156.40" y="90.60" text-anchor="middle" font-family='"Liberation Serif", "DejaVu Serif", serif' font-size="10" fill="#000">8</text>
<text x="173.00" y="24.50" text-anchor="middle" font-family='"Liberation Serif", "DejaVu Serif", serif' font-size="10" fill="#000">14</text>
<text x="207.20" y="12.90" text-anchor="middle" font-family='"Liberation Serif", "DejaVu Serif", serif' font-size="10.2" fill="#000">16,17,18</text>
<text x="74.90" y="268.60" text-anchor="middle" font-family='"Liberation Serif", "DejaVu Serif", serif' font-size="10" fill="#000">1</text>
<text x="101.60" y="268.60" text-anchor="middle" font-family='"Liberation Serif", "DejaVu Serif", serif' font-size="10" fill="#000">3</text>
<text x="148.90" y="208.80" text-anchor="middle" font-family='"Liberation Serif", "DejaVu Serif", serif' font-size="10" fill="#000">6,9</text>
<text x="158.00" y="266.00" text-anchor="middle" font-family='"Liberation Serif", "DejaVu Serif", serif' font-size="10" fill="#000">8</text>
<text x="166.80" y="192.30" text-anchor="middle" font-family='"Liberation Serif", "DejaVu Serif", serif' font-size="10" fill="#000">14</text>
<text x="230.30" y="188.20" text-anchor="middle" font-family='"Liberation Serif", "DejaVu Serif", serif' font-size="10" fill="#000">16,17,18</text>
<text x="306.70" y="42.00" text-anchor="middle" font-family='"Liberation Serif", "DejaVu Serif", serif' font-size="10" fill="#000">11</text>
<text x="319.40" y="42.00" text-anchor="middle" font-family='"Liberation Serif", "DejaVu Serif", serif' font-size="10" fill="#000">2</text>
<text x="349.20" y="14.00" text-anchor="middle" font-family='"Liberation Serif", "DejaVu Serif", serif' font-size="10" fill="#000">5,8</text>
<text x="341.60" y="61.00" text-anchor="middle" font-family='"Liberation Serif", "DejaVu Serif", serif' font-size="10" fill="#000">7</text>
<text x="366.20" y="40.20" text-anchor="middle" font-family='"Liberation Serif", "DejaVu Serif", serif' font-size="10" fill="#000">Ring</text>
<text x="358.00" y="50.90" text-anchor="middle" font-family='"Liberation Serif", "DejaVu Serif", serif' font-size="10" fill="#000">4</text>
<text x="375.70" y="77.60" text-anchor="middle" font-family='"Liberation Serif", "DejaVu Serif", serif' font-size="10" fill="#000">9</text>
<text x="366.50" y="91.50" text-anchor="middle" font-family='"Liberation Serif", "DejaVu Serif", serif' font-size="10" fill="#000">6</text>
<text x="457.80" y="33.60" text-anchor="middle" font-family='"Liberation Serif", "DejaVu Serif", serif' font-size="10" fill="#000">14</text>
<text x="479.20" y="87.00" text-anchor="middle" font-family='"Liberation Serif", "DejaVu Serif", serif' font-size="10" fill="#000">16</text>
<text x="501.60" y="85.20" text-anchor="middle" font-family='"Liberation Serif", "DejaVu Serif", serif' font-size="10" fill="#000">17</text>
<text x="516.90" y="78.90" text-anchor="middle" font-family='"Liberation Serif", "DejaVu Serif", serif' font-size="10" fill="#000">18</text>
<text x="304.40" y="192.40" text-anchor="middle" font-family='"Liberation Serif", "DejaVu Serif", serif' font-size="10" fill="#000">11</text>
<text x="322.70" y="194.20" text-anchor="middle" font-family='"Liberation Serif", "DejaVu Serif", serif' font-size="10" fill="#000">2</text>
<text x="349.50" y="184.50" text-anchor="middle" font-family='"Liberation Serif", "DejaVu Serif", serif' font-size="10" fill="#000">7,5</text>
<text x="357.60" y="235.60" text-anchor="middle" font-family='"Liberation Serif", "DejaVu Serif", serif' font-size="10" fill="#000">4</text>
<text x="374.90" y="215.30" text-anchor="middle" font-family='"Liberation Serif", "DejaVu Serif", serif' font-size="10" fill="#000">8</text>
<text x="382.30" y="228.00" text-anchor="middle" font-family='"Liberation Serif", "DejaVu Serif", serif' font-size="10" fill="#000">6</text>
<text x="387.40" y="237.00" text-anchor="middle" font-family='"Liberation Serif", "DejaVu Serif", serif' font-size="10" fill="#000">9</text>
<text x="459.10" y="194.20" text-anchor="middle" font-family='"Liberation Serif", "DejaVu Serif", serif' font-size="10" fill="#000">14</text>
<text x="488.90" y="221.40" text-anchor="middle" font-family='"Liberation Serif", "DejaVu Serif", serif' font-size="10" fill="#000">16</text>
<text x="503.40" y="226.50" text-anchor="middle" font-family='"Liberation Serif", "DejaVu Serif", serif' font-size="10" fill="#000">17</text>
<text x="517.40" y="225.20" text-anchor="middle" font-family='"Liberation Serif", "DejaVu Serif", serif' font-size="10" fill="#000">18</text>
<path d="M55.50 215.30L55.50 204.30" stroke="#3c3c3c" stroke-width="0.7" fill="none" stroke-linecap="round"/>
<path d="M55.50 204.30L66.00 198.50" stroke="#3c3c3c" stroke-width="0.7" fill="none" stroke-linecap="round"/>
<path d="M66.00 198.50L76.50 204.20" stroke="#3c3c3c" stroke-width="0.7" fill="none" stroke-linecap="round"/>
<path d="M76.50 204.20L76.50 215.30" stroke="#3c3c3c" stroke-width="0.7" fill="none" stroke-linecap="round"/>
<path d="M76.50 215.30L66.00 221.10" stroke="#3c3c3c" stroke-width="0.7" fill="none" stroke-linecap="round"/>
<path d="M66.00 221.10L55.50 215.30" stroke="#3c3c3c" stroke-width="0.7" fill="none" stroke-linecap="round"/>
<path d="M57.60 213.54L57.60 206.06" stroke="#3c3c3c" stroke-width="0.7" fill="none" stroke-linecap="round"/>
<path d="M66.47 201.14L74.03 205.25" stroke="#3c3c3c" stroke-width="0.7" fill="none" stroke-linecap="round"/>
<path d="M74.01 214.27L66.45 218.45" stroke="#3c3c3c" stroke-width="0.7" fill="none" stroke-linecap="round"/>
<path d="M76.50 204.20L84.87 200.77" stroke="#3c3c3c" stroke-width="0.7" fill="none" stroke-linecap="round"/>
<path d="M88.37 201.75L94.40 209.90" stroke="#3c3c3c" stroke-width="0.7" fill="none" stroke-linecap="round"/>
<path d="M94.40 209.90L88.42 217.49" stroke="#3c3c3c" stroke-width="0.7" fill="none" stroke-linecap="round"/>
<path d="M84.85 218.48L76.50 215.30" stroke="#3c3c3c" stroke-width="0.7" fill="none" stroke-linecap="round"/>
<path d="M95.30 211.83L90.71 217.66" stroke="#3c3c3c" stroke-width="0.7" fill="none" stroke-linecap="round"/>
<path d="M94.40 209.90L103.70 209.98" stroke="#3c3c3c" stroke-width="0.7" fill="none" stroke-linecap="round"/>
<path d="M107.36 208.14L112.80 200.70" stroke="#3c3c3c" stroke-width="0.7" fill="none" stroke-linecap="round"/>
<path d="M112.80 200.70L107.56 191.69" stroke="#3c3c3c" stroke-width="0.7" fill="none" stroke-linecap="round"/>
<path d="M114.48 200.01L109.24 190.99" stroke="#3c3c3c" stroke-width="0.7" fill="none" stroke-linecap="round"/>
<path d="M112.80 200.70L121.90 200.70" stroke="#3c3c3c" stroke-width="0.7" fill="none" stroke-linecap="round"/>
<path d="M125.65 198.92L129.69 193.96" stroke="#3c3c3c" stroke-width="0.7" fill="none" stroke-linecap="round"/>
<path d="M87.87 197.77L90.64 191.05" stroke="#3c3c3c" stroke-width="0.7" fill="none" stroke-linecap="round"/>
<path d="M107.21 211.95L110.84 217.80" stroke="#3c3c3c" stroke-width="0.7" fill="none" stroke-linecap="round"/>
<path d="M55.50 215.30L46.28 220.08" stroke="#3c3c3c" stroke-width="0.7" fill="none" stroke-linecap="round"/>
<path d="M42.73 220.07L35.00 216.00" stroke="#3c3c3c" stroke-width="0.7" fill="none" stroke-linecap="round"/>
<path d="M35.00 216.00L24.50 221.60" stroke="#3c3c3c" stroke-width="0.7" fill="none" stroke-linecap="round"/>
<path d="M24.50 221.60L15.80 217.49" stroke="#3c3c3c" stroke-width="0.7" fill="none" stroke-linecap="round"/>
<text x="87.00" y="201.30" text-anchor="middle" font-family='"Liberation Sans", sans-serif' font-size="4.0" fill="#2e2e2e" stroke="#2e2e2e" stroke-width="0.12">N</text>
<text x="87.00" y="220.70" text-anchor="middle" font-family='"Liberation Sans", sans-serif' font-size="4.0" fill="#2e2e2e" stroke="#2e2e2e" stroke-width="0.12">N</text>
<text x="106.00" y="211.40" text-anchor="middle" font-family='"Liberation Sans", sans-serif' font-size="4.0" fill="#2e2e2e" stroke="#2e2e2e" stroke-width="0.12">N</text>
<text x="106.40" y="191.10" text-anchor="middle" font-family='"Liberation Sans", sans-serif' font-size="4.0" fill="#2e2e2e" stroke="#2e2e2e" stroke-width="0.12">O</text>
<text x="124.20" y="202.10" text-anchor="middle" font-family='"Liberation Sans", sans-serif' font-size="4.0" fill="#2e2e2e" stroke="#2e2e2e" stroke-width="0.12">O</text>
<text x="44.50" y="222.40" text-anchor="middle" font-family='"Liberation Sans", sans-serif' font-size="4.0" fill="#2e2e2e" stroke="#2e2e2e" stroke-width="0.12">S</text>
<text x="91.40" y="190.40" text-anchor="middle" font-family='"Liberation Sans", sans-serif' font-size="3.4" fill="#2e2e2e" stroke="#2e2e2e" stroke-width="0.12">H</text>
<text x="111.90" y="220.70" text-anchor="middle" font-family='"Liberation Sans", sans-serif' font-size="3.4" fill="#2e2e2e" stroke="#2e2e2e" stroke-width="0.12">H</text>
<text x="133.00" y="191.30" text-anchor="middle" font-family='"Liberation Sans", sans-serif' font-size="3.4" fill="#2e2e2e" stroke="#2e2e2e" stroke-width="0.12">CH<tspan font-size="2.5" dy="0.8">3</tspan></text>
<text x="12.00" y="216.80" text-anchor="middle" font-family='"Liberation Sans", sans-serif' font-size="3.4" fill="#2e2e2e" stroke="#2e2e2e" stroke-width="0.12">H<tspan font-size="2.5" dy="0.8">3</tspan><tspan dy="-0.8">C</tspan></text>
<text transform="translate(66.50 197.30) scale(0.88 1)" text-anchor="middle" font-family='"Liberation Serif", "DejaVu Serif", serif' font-size="5.4" fill="#3333e6" stroke="#3333e6" stroke-width="0.1">9</text>
<text transform="translate(77.00 202.80) scale(0.88 1)" text-anchor="middle" font-family='"Liberation Serif", "DejaVu Serif", serif' font-size="5.4" fill="#3333e6" stroke="#3333e6" stroke-width="0.1">4</text>
<text transform="translate(85.00 198.60) scale(0.88 1)" text-anchor="middle" font-family='"Liberation Serif", "DejaVu Serif", serif' font-size="5.4" fill="#3333e6" stroke="#3333e6" stroke-width="0.1">3</text>
<text transform="translate(95.60 207.90) scale(0.88 1)" text-anchor="middle" font-family='"Liberation Serif", "DejaVu Serif", serif' font-size="5.4" fill="#3333e6" stroke="#3333e6" stroke-width="0.1">2</text>
<text transform="translate(76.60 220.80) scale(0.88 1)" text-anchor="middle" font-family='"Liberation Serif", "DejaVu Serif", serif' font-size="5.4" fill="#3333e6" stroke="#3333e6" stroke-width="0.1">5</text>
<text transform="translate(90.10 224.90) scale(0.88 1)" text-anchor="middle" font-family='"Liberation Serif", "DejaVu Serif", serif' font-size="5.4" fill="#3333e6" stroke="#3333e6" stroke-width="0.1">1</text>
<text transform="translate(64.60 225.60) scale(0.88 1)" text-anchor="middle" font-family='"Liberation Serif", "DejaVu Serif", serif' font-size="5.4" fill="#3333e6" stroke="#3333e6" stroke-width="0.1">6</text>
<text transform="translate(111.10 212.00) scale(0.88 1)" text-anchor="middle" font-family='"Liberation Serif", "DejaVu Serif", serif' font-size="5.4" fill="#3333e6" stroke="#3333e6" stroke-width="0.1">10</text>
<text transform="translate(115.00 205.80) scale(0.88 1)" text-anchor="middle" font-family='"Liberation Serif", "DejaVu Serif", serif' font-size="5.4" fill="#3333e6" stroke="#3333e6" stroke-width="0.1">11</text>
<text transform="translate(110.30 187.60) scale(0.88 1)" text-anchor="middle" font-family='"Liberation Serif", "DejaVu Serif", serif' font-size="5.4" fill="#3333e6" stroke="#3333e6" stroke-width="0.1">12</text>
<text transform="translate(127.90 206.40) scale(0.88 1)" text-anchor="middle" font-family='"Liberation Serif", "DejaVu Serif", serif' font-size="5.4" fill="#3333e6" stroke="#3333e6" stroke-width="0.1">13</text>
<text transform="translate(129.80 187.40) scale(0.88 1)" text-anchor="middle" font-family='"Liberation Serif", "DejaVu Serif", serif' font-size="5.4" fill="#3333e6" stroke="#3333e6" stroke-width="0.1">14</text>
<text transform="translate(52.40 205.30) scale(0.88 1)" text-anchor="middle" font-family='"Liberation Serif", "DejaVu Serif", serif' font-size="5.4" fill="#3333e6" stroke="#3333e6" stroke-width="0.1">8</text>
<text transform="translate(56.20 221.80) scale(0.88 1)" text-anchor="middle" font-family='"Liberation Serif", "DejaVu Serif", serif' font-size="5.4" fill="#3333e6" stroke="#3333e6" stroke-width="0.1">7</text>
<text transform="translate(45.70 227.70) scale(0.88 1)" text-anchor="middle" font-family='"Liberation Serif", "DejaVu Serif", serif' font-size="5.4" fill="#3333e6" stroke="#3333e6" stroke-width="0.1">15</text>
<text transform="translate(34.50 214.50) scale(0.88 1)" text-anchor="middle" font-family='"Liberation Serif", "DejaVu Serif", serif' font-size="5.4" fill="#3333e6" stroke="#3333e6" stroke-width="0.1">16</text>
<text transform="translate(24.20 227.70) scale(0.88 1)" text-anchor="middle" font-family='"Liberation Serif", "DejaVu Serif", serif' font-size="5.4" fill="#3333e6" stroke="#3333e6" stroke-width="0.1">17</text>
<text transform="translate(14.50 213.00) scale(0.88 1)" text-anchor="middle" font-family='"Liberation Serif", "DejaVu Serif", serif' font-size="5.4" fill="#3333e6" stroke="#3333e6" stroke-width="0.1">18</text>
</svg>
</body></html>
